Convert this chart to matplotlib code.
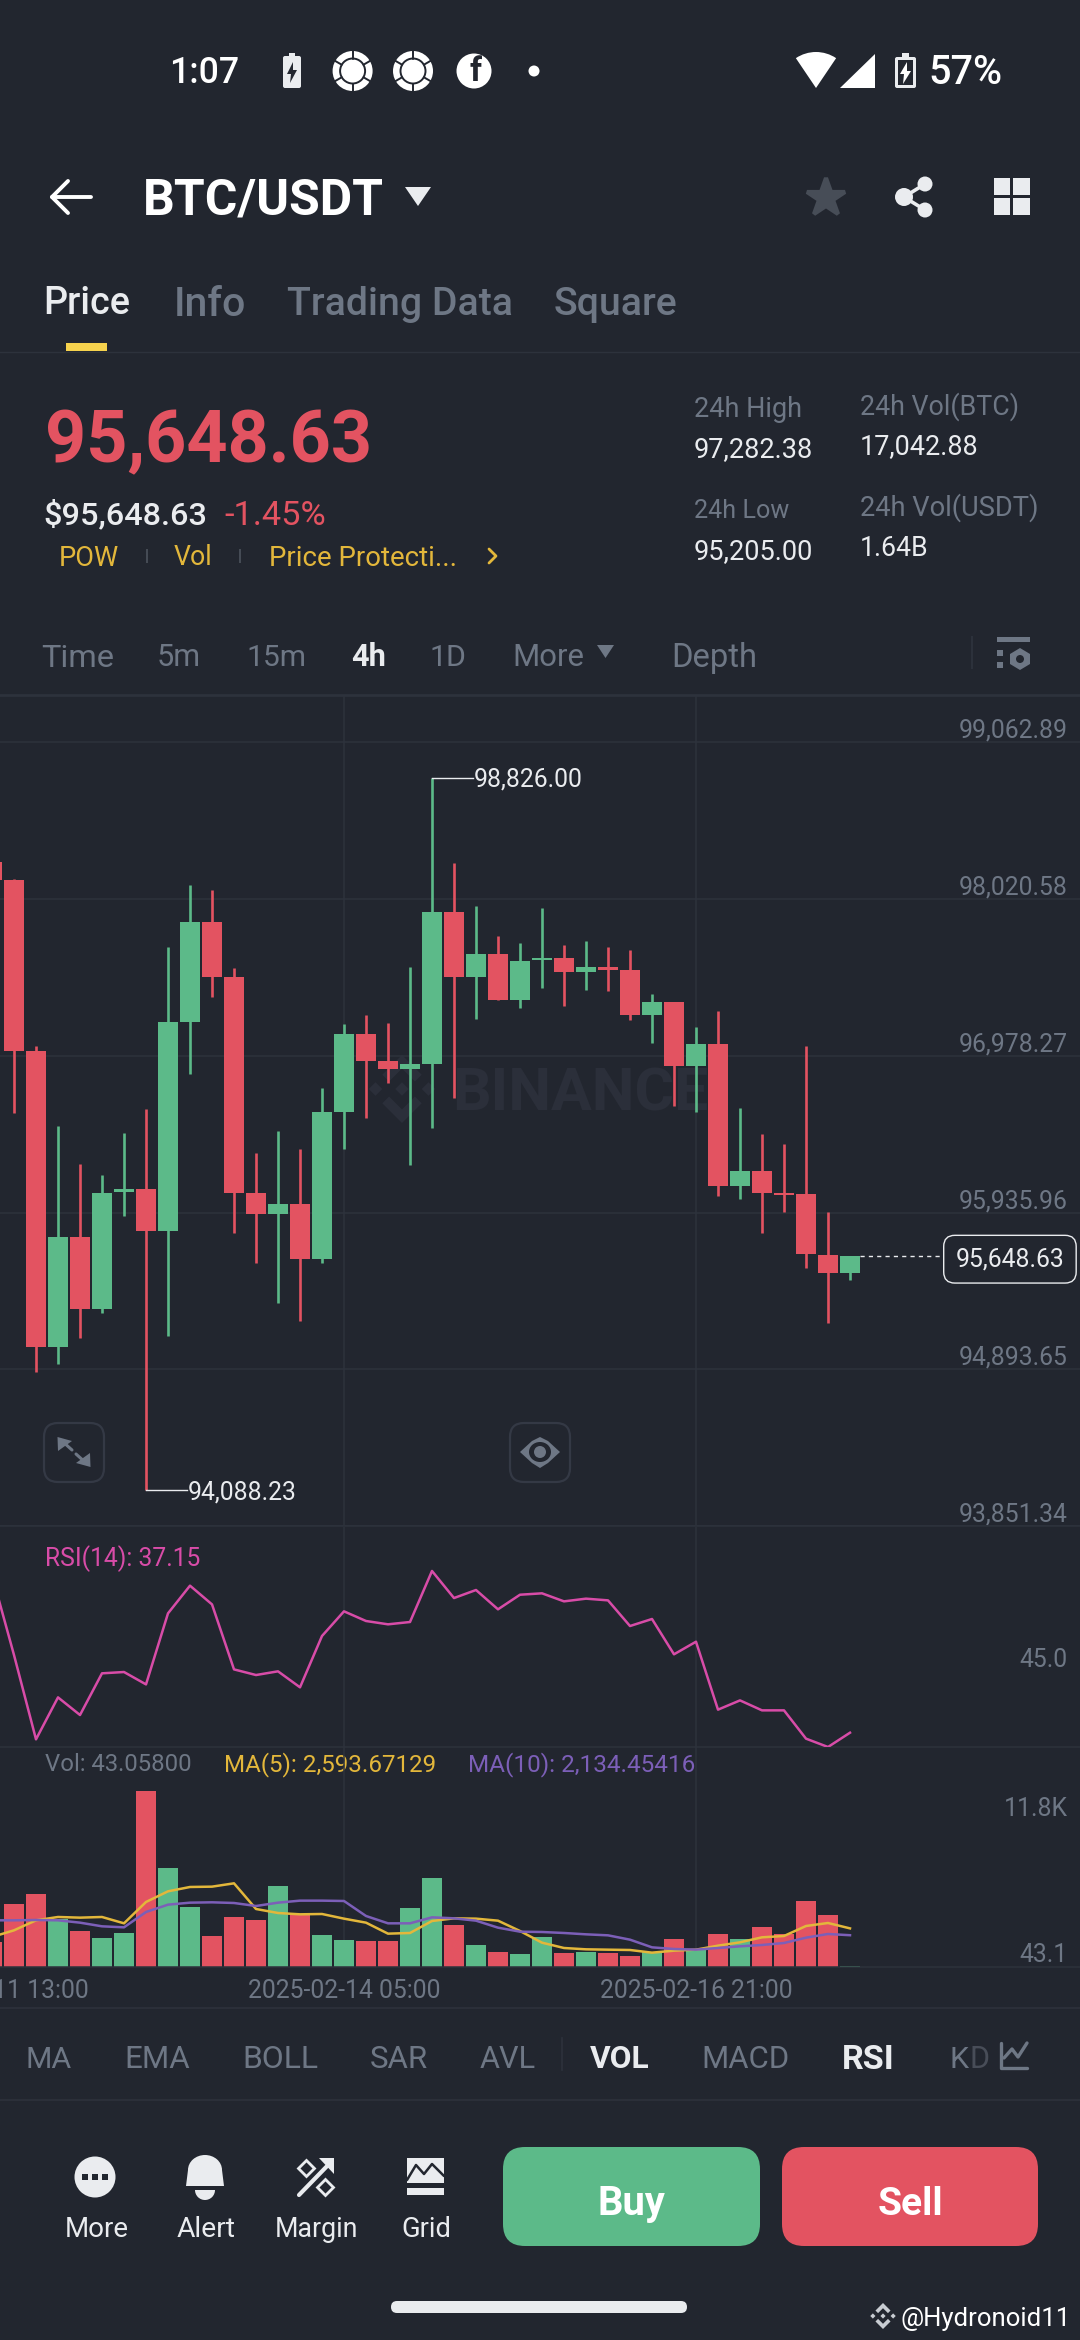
import matplotlib
matplotlib.use("Agg")
import matplotlib.pyplot as plt
from matplotlib.patches import Circle, Ellipse, FancyBboxPatch, Polygon, Rectangle, Wedge
from matplotlib.transforms import ScaledTranslation
import numpy as np

plt.rcParams['font.family'] = ['Roboto', 'DejaVu Sans']

# --- DATA (4h candles) ---
candle_idx = list(range(-1, 39))
opens = [98266, 98150, 97007, 95039, 95772, 95297, 96071, 96091, 95813, 97204,
         97869, 97499, 96067, 95925, 95993, 95626, 96603, 97126, 96943, 96888,
         96926, 97937, 97499, 97652, 97346, 97614, 97631, 97533, 97570, 97547,
         97252, 97333, 96912, 97058, 96115, 96213, 96067, 96060, 95653, 95531]
highs = [98300, 98157, 97044, 96508, 96261, 96183, 96464, 96627, 97699, 98116,
         98083, 97564, 96332, 96475, 96356, 96766, 97187, 97248, 97194, 97567,
         98826, 98262, 97971, 97777, 97730, 97960, 97713, 97740, 97703, 97679,
         97387, 97333, 97167, 97279, 96634, 96458, 96393, 97044, 95938, 95648.63]
lows = [98100, 96597, 94873, 94928, 95101, 95270, 95915, 94088.23, 95118, 96854,
        97367, 95799, 95599, 95335, 95216, 95599, 96356, 96563, 96800, 96254,
        96495, 96698, 97224, 97346, 97299, 97428, 97306, 97414, 97411, 97214,
        97061, 96644, 96607, 96047, 96023, 95799, 95938, 95565, 95202, 95487]
closes = [98150, 97007, 95039, 95772, 95297, 96067, 96091, 95813, 97204, 97869,
          97499, 96067, 95925, 95993, 95626, 96603, 97126, 96943, 96888, 96922,
          97937, 97499, 97652, 97346, 97611, 97631, 97533, 97570, 97550, 97252,
          97333, 96912, 97058, 96115, 96213, 96067, 96050, 95657, 95531, 95648.63]
volumes = [1679, 4232, 4881, 3202, 2396, 1926, 2284, 11800, 6672, 4008,
           2105, 3381, 3135, 5418, 3582, 2127, 1791, 1769, 1746, 3985,
           6001, 2799, 1500, 1008, 851, 1993, 918, 1008, 940, 739,
           985, 1858, 1187, 2239, 1858, 2709, 2239, 4411, 3470, 43.058]
ma5 = [2015, 2463, 3135, 3359, 3314, 3359, 2933, 4366, 5083, 5374,
       5396, 5620, 3896, 3627, 3538, 3560, 3247, 2978, 2239, 2284,
       3090, 3269, 3247, 3112, 2418, 1634, 1276, 1187, 1164, 1142,
       963, 1097, 1164, 1433, 1657, 1993, 2082, 2754, 2955, 2593.67]
ma10 = [3135, 3135, 3157, 3135, 2978, 2732, 2664, 3694, 4187, 4321,
        4344, 4299, 4097, 4321, 4456, 4456, 4433, 3426, 2933, 2933,
        3336, 3269, 3112, 2642, 2373, 2351, 2284, 2194, 2127, 1836,
        1321, 1209, 1164, 1276, 1388, 1478, 1612, 1970, 2217, 2134.45]
rsi = [57.55, 47.2, 36.29, 41.72, 39.44, 44.83, 45.0, 43.4, 52.59, 56.17,
       53.75, 45.34, 44.61, 45.09, 43.02, 49.66, 52.85, 51.6, 51.17, 51.47,
       58.07, 54.57, 55.61, 53.11, 55.0, 55.18, 54.14, 54.49, 54.27, 50.95,
       51.86, 47.29, 48.92, 40.13, 41.33, 40.04, 40.04, 36.38, 35.3, 37.15]

price_ticks = [99062.89, 98020.58, 96978.27, 95935.96, 94893.65, 93851.34]
date_ticks = [-1, 15, 31]
date_labels = ["2025-02-11 13:00", "2025-02-14 05:00", "2025-02-16 21:00"]
last_price = 95648.63

# --- COLOURS ---
BG = "#22262f"
GRID = "#2d323c"
RED = "#e35361"
GREEN = "#5cba89"
GREY = "#6e7785"
WHITE = "#eaecef"
YELLOW = "#e3b73b"
PINK = "#d84ca8"
PURPLE = "#7c5fb8"
MARK = "#2b2f3a"

W, H = 1080, 2340
fig = plt.figure(figsize=(W / 100, H / 100), dpi=100, facecolor=BG)
renderer = fig.canvas.get_renderer()

# full-screen axes in screen pixels for the app chrome
ui = fig.add_axes([0, 0, 1, 1], zorder=0)
ui.set_xlim(0, W)
ui.set_ylim(H, 0)
ui.axis("off")


def label(x0, x1, yc, s, color=GREY, weight="normal", size=18):
    # left edge, right edge and cap-centre in pixels, size fitted to the width
    t = ui.text(x0, yc, s, color=color, fontweight=weight, fontsize=size, va="baseline")
    size2 = size * (x1 - x0) / t.get_window_extent(renderer).width
    t.set_fontsize(size2)
    t.set_y(yc + 0.494 * size2)
    return t


def poly(pts, color=WHITE, **kw):
    ui.add_patch(Polygon(pts, closed=True, facecolor=color, edgecolor="none", **kw))


def line(xs, ys, color=WHITE, lw=2.6):
    ui.plot(xs, ys, color=color, lw=lw, solid_capstyle="round", solid_joinstyle="round")


def rect(x0, y0, x1, y1, color=WHITE):
    ui.add_patch(Rectangle((x0, y0), x1 - x0, y1 - y0, facecolor=color, edgecolor="none"))


def rounded(x0, y0, x1, y1, r, fc=WHITE, ec="none", lw=0):
    ui.add_patch(FancyBboxPatch((x0 + r, y0 + r), x1 - x0 - 2 * r, y1 - y0 - 2 * r,
                                boxstyle=f"round,pad={r},rounding_size={r}",
                                facecolor=fc, edgecolor=ec, linewidth=lw))


def logo(cx, cy, s, color):
    for dx in (-0.78, 0, 0.78):
        poly([(cx + (dx - 0.2) * s, cy), (cx + dx * s, cy - 0.2 * s),
              (cx + (dx + 0.2) * s, cy), (cx + dx * s, cy + 0.2 * s)], color)
    for d in (-1, 1):
        pts = [(0, 1), (0.58, 0.42), (0.38, 0.22), (0, 0.6), (-0.38, 0.22), (-0.58, 0.42)]
        poly([(cx + a * s, cy + d * b * s) for a, b in pts], color)


# --- STATUS BAR ---
label(169, 239, 70, "1:07", "white", "medium", 27)
label(928, 1002, 70, "57%", "white", "medium", 27)
rounded(283, 56, 301, 88, 2)
rect(289, 53, 295, 57)
poly([(293, 62), (287, 74), (291, 74), (290, 83), (297, 70), (293, 70)], BG)
for cx in (352.6, 413):
    ui.add_patch(Circle((cx, 71), 20, facecolor="white", edgecolor="none"))
    ui.add_patch(Circle((cx, 71), 12.5, facecolor="none", edgecolor=BG, lw=1.4))
    for ang in np.deg2rad(np.arange(30, 360, 60)):
        line([cx + 12.5 * np.cos(ang), cx + 21 * np.cos(ang)],
             [71 + 12.5 * np.sin(ang), 71 + 21 * np.sin(ang)], BG, 1.4)
ui.add_patch(Circle((474, 71), 17.5, facecolor="white", edgecolor="none"))
ui.text(476, 72, "f", color=BG, fontsize=24, fontweight="bold", ha="center", va="center")
ui.add_patch(Circle((534, 71), 5.5, facecolor="white", edgecolor="none"))
ui.add_patch(Wedge((816, 88), 36, -124, -56, facecolor="white", edgecolor="none"))
poly([(875, 54), (875, 88), (840, 88)], "white")
rounded(895, 57, 916, 88, 2)
rect(902, 53, 909, 58)
rect(898, 60, 913, 85, BG)
poly([(907, 62), (900, 74), (904, 74), (903, 84), (911, 71), (907, 71)], "white")

# --- HEADER ---
line([52, 91], [197, 197], "white", 2.8)
line([68, 52, 68], [181, 197, 213], "white", 2.8)
label(143, 384, 197, "BTC/USDT", "white", "bold", 34)
poly([(405, 187), (431, 187), (418, 206)], WHITE)
ui.plot(826, 198, marker="*", ms=29, color="#474d57", mec="#474d57", mew=3, mfc="#474d57")
ui.add_patch(Circle((925, 184), 7.5, facecolor=WHITE, edgecolor="none"))
ui.add_patch(Circle((925, 210), 7.5, facecolor=WHITE, edgecolor="none"))
ui.add_patch(Circle((904, 197), 9, facecolor=WHITE, edgecolor="none"))
line([925, 904, 925], [184, 197, 210], WHITE, 2.6)
rect(994, 178, 1010, 195)
rect(1013, 178, 1030, 195)
rect(994, 198, 1010, 215)
rect(1013, 198, 1030, 215)

# tabs
label(43, 130, 301, "Price", WHITE, "medium", 26)
label(173.5, 246, 301, "Info", GREY, "medium", 26)
label(287, 512, 301, "Trading Data", GREY, "medium", 26)
label(554, 678, 301, "Square", GREY, "medium", 26)
rect(66, 343, 107, 351, "#f6d24d")
ui.plot([0, W], [351.5, 351.5], color=GRID, lw=1)

# --- PRICE BLOCK ---
label(45, 372, 437, "95,648.63", RED, "bold", 52)
label(43, 207, 513, "$95,648.63", WHITE, "medium", 24)
label(224, 326, 513, "-1.45%", RED, "normal", 24)
label(59, 119, 556, "POW", YELLOW, "normal", 20)
label(173.5, 212, 556, "Vol", YELLOW, "normal", 20)
label(268.6, 456, 556, "Price Protecti...", YELLOW, "normal", 20)
line([489, 496, 489], [549, 556, 563], YELLOW, 2)
for sx in (147, 240):
    ui.plot([sx, sx], [550, 562], color="#474d57", lw=1.4)

label(694, 802, 407, "24h High", GREY, "normal", 20)
label(694, 813, 447, "97,282.38", WHITE, "normal", 20)
label(859.5, 1018, 405, "24h Vol(BTC)", GREY, "normal", 20)
label(859.5, 978, 444, "17,042.88", WHITE, "normal", 20)
label(694, 789, 509, "24h Low", GREY, "normal", 20)
label(694, 813, 549, "95,205.00", WHITE, "normal", 20)
label(859.5, 1038, 506, "24h Vol(USDT)", GREY, "normal", 20)
label(859.5, 928, 547, "1.64B", WHITE, "normal", 20)

# --- TIMEFRAMES ---
label(41, 114, 655, "Time", GREY, "normal", 23)
label(157, 201, 655, "5m", GREY, "normal", 23)
label(246.5, 306.5, 655, "15m", GREY, "normal", 23)
label(351, 386, 655, "4h", WHITE, "bold", 23)
label(430, 467, 655, "1D", GREY, "normal", 23)
label(512, 584, 655, "More", GREY, "normal", 23)
poly([(597, 645), (614, 645), (605.5, 658)], GREY)
label(671.5, 757.6, 655, "Depth", GREY, "normal", 23)
ui.plot([972, 972], [637, 668], color=GRID, lw=1.4)
rect(997, 637, 1030, 642, GREY)
rect(997, 650, 1003, 656, GREY)
rect(997, 662, 1003, 668, GREY)
poly([(1020, 648), (1030, 654), (1030, 664), (1020, 670), (1010, 664), (1010, 654)], GREY)
ui.add_patch(Circle((1020, 659), 4, facecolor=BG, edgecolor="none"))

# watermark behind the candles
logo(402, 1089, 34, MARK)
label(452, 708, 1089, "BINANCE", MARK, "bold", 38)

# chart overlay buttons
for bx in (44, 510):
    rounded(bx, 1423, bx + 60, 1482, 14, fc="none", ec="#343945", lw=1.6)
poly([(57.5, 1437), (72, 1441), (58, 1451)], GREY)
line([62, 72], [1441, 1450], GREY, 2.2)
poly([(90.5, 1467), (76, 1463), (90, 1453)], GREY)
line([86, 76], [1463, 1454], GREY, 2.2)
poly([(520, 1452), (532, 1441), (540, 1437), (548, 1441), (560, 1452),
      (548, 1463), (540, 1468), (532, 1463)], GREY)
ui.add_patch(Ellipse((540, 1452), 22, 20, facecolor=BG, edgecolor="none"))
ui.add_patch(Circle((540, 1452), 6, facecolor=GREY, edgecolor="none"))

# panel captions
label(45, 200, 1557, "RSI(14): 37.15", PINK, "normal", 18)
label(45, 191, 1763, "Vol: 43.05800", GREY, "normal", 18)
label(224, 435, 1763, "MA(5): 2,593.67129", YELLOW, "normal", 18)
label(468, 694, 1763, "MA(10): 2,134.45416", PURPLE, "normal", 18)


# --- CHART PANELS ---
def panel(top, bottom, **kw):
    ax = fig.add_axes([0, 1 - bottom / H, 1, (bottom - top) / H], zorder=1, **kw)
    ax.patch.set_alpha(0)
    for s in ax.spines.values():
        s.set_visible(False)
    ax.spines["bottom"].set_visible(True)
    ax.spines["bottom"].set_color(GRID)
    ax.spines["bottom"].set_linewidth(1.1)
    return ax


def right_labels(ax, dy_px):
    # labels sit inside the panel at the right edge, shifted off their level
    ax.yaxis.tick_right()
    ax.tick_params(axis="y", length=0, pad=-9, colors=GREY, labelsize=17.8)
    for t, dy in zip(ax.get_yticklabels(), dy_px):
        t.set_ha("right")
        t.set_va("center")
        t.set_transform(t.get_transform() + ScaledTranslation(0, dy / 100, fig.dpi_scale_trans))


ax_p = panel(695, 1526)
ax_r = panel(1527, 1747, sharex=ax_p)
ax_v = panel(1747, 1967, sharex=ax_p)

ax_p.set_ylim(93851.34, 99377.3)
ax_r.set_ylim(35.3, 63.76)
ax_v.set_ylim(0, 14775)

ax_p.spines["top"].set_visible(True)
ax_p.spines["top"].set_color(GRID)
ax_p.spines["top"].set_linewidth(2)

# candles
for i, o, h, l, c in zip(candle_idx, opens, highs, lows, closes):
    col = GREEN if c >= o else RED
    ax_p.vlines(i, l, h, color=col, lw=1.9, zorder=3)
    ax_p.bar(i, abs(c - o), 0.88, bottom=min(o, c), color=col, zorder=3)

ax_p.set_yticks(price_ticks)
ax_p.set_yticklabels([f"{v:,.2f}" for v in price_ticks])
ax_p.grid(axis="y", color=GRID, lw=1.1, zorder=1)
right_labels(ax_p, [11.5] * len(price_ticks))

# high / low markers
hi_i = int(np.argmax(highs)) - 1
lo_i = int(np.argmin(lows)) - 1
ax_p.plot([hi_i, hi_i + 1.85], [max(highs)] * 2, color=WHITE, lw=1, zorder=4)
ax_p.annotate(f"{max(highs):,.2f}", (hi_i + 1.9, max(highs)), xytext=(0, -1.5),
              textcoords="offset points", color=WHITE, fontsize=17.8, va="center")
ax_p.plot([lo_i, lo_i + 1.85], [min(lows)] * 2, color=WHITE, lw=1, zorder=4)
ax_p.annotate(f"{min(lows):,.2f}", (lo_i + 1.9, min(lows)), xytext=(0, -1.5),
              textcoords="offset points", color=WHITE, fontsize=17.8, va="center")

# last price line and box
ax_p.plot([candle_idx[-1] + 0.45, 42.3], [last_price] * 2, color=WHITE, lw=1, ls=(0, (3, 3)), zorder=4)
ax_p.annotate(f"{last_price:,.2f}", (45.27, last_price), xytext=(0, -2.5),
              textcoords="offset points", color=WHITE, fontsize=17.8,
              ha="center", va="center", zorder=5,
              bbox=dict(boxstyle="round,pad=0.48,rounding_size=0.45", fc=BG, ec=WHITE, lw=1))

# RSI
ax_r.plot(candle_idx, rsi, color=PINK, lw=1.8, zorder=3, solid_joinstyle="round")
ax_r.set_yticks([45])
ax_r.set_yticklabels(["45.0"])
right_labels(ax_r, [12])

# volume
bar_cols = [GREEN if c >= o else RED for o, c in zip(opens, closes)]
ax_v.bar(candle_idx, volumes, 0.88, color=bar_cols, zorder=2)
ax_v.plot(candle_idx, ma5, color=YELLOW, lw=1.8, zorder=3)
ax_v.plot(candle_idx, ma10, color=PURPLE, lw=1.8, zorder=4)
ax_v.set_yticks([11800, 43.1])
ax_v.set_yticklabels(["11.8K", "43.1"])
right_labels(ax_v, [-18, 11])

# shared vertical grid and the date axis
ax_v.set_xticks(date_ticks[1:])
ax_v.set_xticklabels(date_labels[1:])
for ax in (ax_p, ax_r, ax_v):
    ax.grid(axis="x", color=GRID, lw=1.1, zorder=1)
    ax.tick_params(axis="x", length=0, labelbottom=False)
ax_v.tick_params(axis="x", labelbottom=True, pad=9, colors=GREY, labelsize=17.8)
ax_p.set_xlim(-14 / 22, (W - 14) / 22)
# first date is centred off-screen, so a tick would not be drawn at all
ax_v.annotate(date_labels[0], (date_ticks[0], 0), xytext=(0, -9), textcoords="offset points",
              color=GREY, fontsize=17.8, ha="center", va="top", annotation_clip=False)

# --- LOWER CHROME ---
ui.plot([0, W], [2008, 2008], color=GRID, lw=1.2)
ui.plot([0, W], [2100, 2100], color=GRID, lw=1.2)
label(26, 72, 2057, "MA", GREY, "normal", 22)
label(124, 189, 2057, "EMA", GREY, "normal", 22)
label(242, 318, 2057, "BOLL", GREY, "normal", 22)
label(370, 428, 2057, "SAR", GREY, "normal", 22)
label(480, 536, 2057, "AVL", GREY, "normal", 22)
ui.plot([562, 562], [2038, 2070], color=GRID, lw=1.2)
label(589.5, 649, 2057, "VOL", WHITE, "bold", 22)
label(701, 789, 2057, "MACD", GREY, "normal", 22)
label(842, 895, 2057, "RSI", WHITE, "bold", 22)
label(949, 968, 2057, "K", GREY, "normal", 22)
label(969, 989, 2057, "D", "#484d58", "normal", 22)
line([1001, 1001, 1027], [2043, 2068, 2068], GREY, 2.4)
line([1004, 1012, 1018, 1027], [2058, 2049, 2057, 2043], GREY, 2.4)

# bottom buttons
ui.add_patch(Circle((95, 2177), 20.5, facecolor=WHITE, edgecolor="none"))
for dx in (-10, 0, 10):
    rect(95 + dx - 3, 2174, 95 + dx + 3, 2180, BG)
ui.add_patch(Ellipse((205, 2170), 34, 30, facecolor=WHITE, edgecolor="none"))
poly([(188, 2170), (222, 2170), (224, 2186), (186, 2186)], WHITE)
ui.add_patch(Wedge((205, 2190), 10, 0, 180, facecolor=WHITE, edgecolor="none"))
line([299, 332], [2195, 2161], WHITE, 3)
poly([(319, 2158), (334, 2158), (334, 2174)], WHITE)
ui.plot([306, 325], [2168, 2187], ls="none", marker="D", ms=8, mfc="none", mec=WHITE, mew=2)
rect(407, 2158, 444, 2183)
line([407, 416, 424, 432, 444], [2180, 2165, 2174, 2164, 2176], BG, 1.8)
rect(407, 2188, 444, 2195)
label(65, 129, 2227, "More", WHITE, "normal", 20)
label(177, 236, 2227, "Alert", WHITE, "normal", 20)
label(275, 358, 2227, "Margin", WHITE, "normal", 20)
label(401, 451, 2227, "Grid", WHITE, "normal", 20)

rounded(503, 2147, 760, 2246, 22, fc=GREEN)
rounded(782, 2147, 1038, 2246, 22, fc=RED)
label(598, 666, 2201, "Buy", "white", "bold", 27)
label(878, 944, 2201, "Sell", "white", "bold", 27)

rounded(391, 2301, 687, 2313, 6, fc=WHITE)
logo(883, 2316, 13, "#c8ccd2")
label(901, 1071, 2317, "@Hydronoid11", "white", "normal", 20)

fig.savefig("out.png", dpi=100, facecolor=BG)
